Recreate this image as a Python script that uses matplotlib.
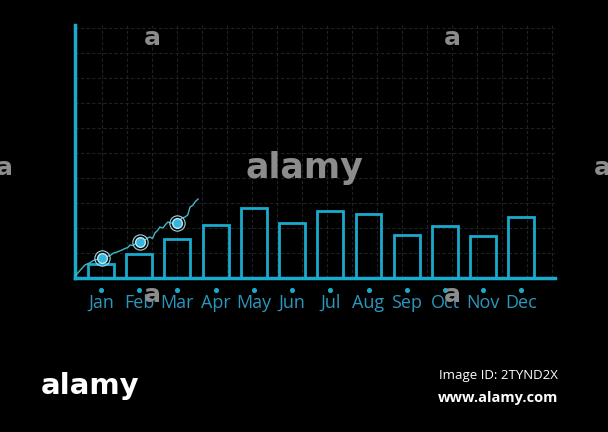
import numpy as np
import matplotlib
matplotlib.use('Agg')
import matplotlib.pyplot as plt

months = ['Jan', 'Feb', 'Mar', 'Apr', 'May', 'Jun',
          'Jul', 'Aug', 'Sep', 'Oct', 'Nov', 'Dec']
bar_values = [0.56, 0.96, 1.56, 2.12, 2.80, 2.20,
              2.68, 2.56, 1.72, 2.08, 1.68, 2.44]

# wiggly trend line over the first months
trend_x = [-0.68, -0.55, -0.42, -0.30, -0.20, 0.03, 0.15, 0.24, 0.33, 0.42,
           0.52, 0.60, 0.70, 0.76, 0.84, 0.89, 1.02, 1.10, 1.15, 1.22, 1.28,
           1.35, 1.41, 1.48, 1.54, 1.62, 1.68, 1.75, 1.81, 1.99, 2.06, 2.12,
           2.20, 2.27, 2.33, 2.40, 2.46, 2.54]
trend_y = [0.08, 0.30, 0.52, 0.60, 0.70, 0.80, 0.86, 0.90, 1.00, 1.04,
           1.10, 1.16, 1.22, 1.32, 1.30, 1.36, 1.44, 1.50, 1.52, 1.60, 1.64,
           1.58, 1.80, 1.90, 2.04, 2.00, 2.12, 2.24, 2.20, 2.20, 2.30, 2.40,
           2.44, 2.52, 2.84, 2.90, 3.04, 3.16]
marker_x = [0.03, 1.02, 1.99]
marker_y = [0.80, 1.44, 2.20]

cyan = '#1ba9cc'
label_col = '#2a98bd'
bg = '#000000'

fig = plt.figure(figsize=(6.08, 4.32), dpi=100, facecolor=bg)
ax = fig.add_axes([75/608, 154/432, 480/608, 253/432], facecolor=bg)
xlim = (-0.68, 11.88)
ylim = (0, 10.12)
ax.set_xlim(*xlim)
ax.set_ylim(*ylim)

# faint square grid, 25px cells
px_x = (xlim[1] - xlim[0]) / 480
for k in range(1, 20):
    ax.axvline(xlim[0] + (2 + 25 * k) * px_x, color='#1b2326', lw=0.8,
               ls=(0, (3, 2)), zorder=0)
for k in range(1, 11):
    ax.axhline(k, color='#1b2326', lw=0.8, ls=(0, (3, 2)), zorder=0)

x = np.arange(len(months))
ax.bar(x, bar_values, width=0.68, facecolor='none', edgecolor=cyan,
       linewidth=2, zorder=3)

ax.plot(trend_x, trend_y, color='#3fb8c8', lw=1.0, zorder=4)
ax.plot(marker_x, marker_y, 'o', color='#35b6e0', markersize=11,
        markerfacecolor='none', markeredgecolor='#9fd8e4', markeredgewidth=0.8,
        zorder=5)
ax.plot(marker_x, marker_y, 'o', color='#35b6e0', markersize=7,
        markeredgecolor='#bfe8f0', markeredgewidth=1, zorder=6)

ax.scatter(x, [-0.48] * len(x), s=7, color=cyan, clip_on=False, zorder=5)
for xi, m in zip(x, months):
    ax.text(xi, -1.0, m, color=label_col, fontsize=13, ha='center',
            va='center', family=['Open Sans', 'DejaVu Sans'])

for s in ['top', 'right']:
    ax.spines[s].set_visible(False)
for s in ['left', 'bottom']:
    ax.spines[s].set_color(cyan)
    ax.spines[s].set_linewidth(2.5)
ax.set_xticks([])
ax.set_yticks([])

# watermark texts
wm = ['Liberation Sans Narrow', 'DejaVu Sans']
fig.text(304/608, 1 - 168/432, 'alamy', color='#8c8c8c', fontsize=25,
         weight='bold', ha='center', va='center', family=wm)
for px, py in [(152, 38), (452, 38), (4, 168), (602, 168), (152, 295), (452, 295)]:
    fig.text(px/608, 1 - py/432, 'a', color='#8c8c8c', fontsize=18,
             weight='bold', ha='center', va='center', family=wm)
fig.text(90/608, 1 - 386/432, 'alamy', color='white', fontsize=21,
         weight='bold', ha='center', va='center', family=wm)
fig.text(558/608, 1 - 375/432, 'Image ID: 2TYND2X', color='white',
         fontsize=9.5, ha='right', va='center', family=['Open Sans', 'DejaVu Sans'])
fig.text(558/608, 1 - 398/432, 'www.alamy.com', color='white',
         fontsize=10.5, weight='bold', ha='right', va='center',
         family=['Open Sans', 'DejaVu Sans'])

fig.savefig('out.png', dpi=100, facecolor=bg)
